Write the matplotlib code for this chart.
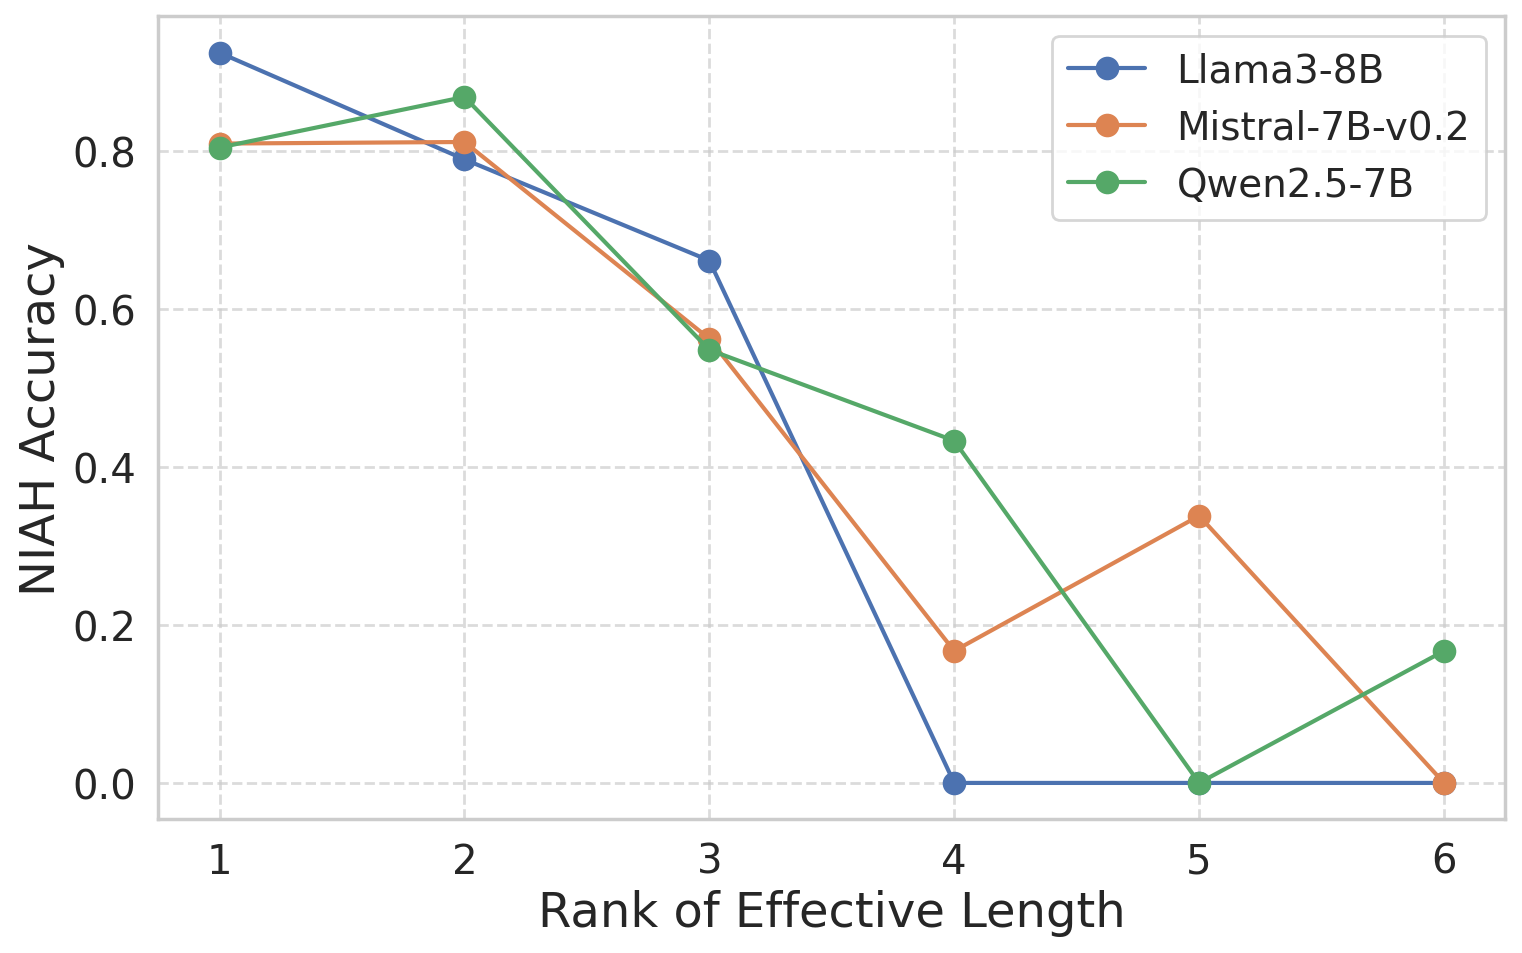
import matplotlib
matplotlib.use('Agg')
import matplotlib.pyplot as plt
import seaborn as sns

# DATA
ranks = [1, 2, 3, 4, 5, 6]
llama = [0.924, 0.789, 0.661, 0.0, 0.0, 0.0]
mistral = [0.809, 0.811, 0.562, 0.167, 0.338, 0.0]
qwen = [0.804, 0.868, 0.548, 0.433, 0.0, 0.167]
model_names = ['Llama3-8B', 'Mistral-7B-v0.2', 'Qwen2.5-7B']

sns.set_theme(style='whitegrid')
plt.rcParams['font.family'] = ['DejaVu Sans']

fig, ax = plt.subplots(figsize=(7.61, 4.77), dpi=200)
colors = sns.color_palette('deep')

for vals, name, c in zip([llama, mistral, qwen], model_names, colors):
    ax.plot(ranks, vals, marker='o', markersize=7.5, linewidth=1.5, color=c, label=name)

ax.grid(True, linestyle='--', alpha=0.7)
ax.set_xlabel('Rank of Effective Length', fontsize=17.3, labelpad=2.5)
ax.set_ylabel('NIAH Accuracy', fontsize=17.3, labelpad=2.5)
ax.tick_params(labelsize=14.5, pad=2)
ax.set_yticks([0.0, 0.2, 0.4, 0.6, 0.8])
ax.legend(fontsize=14, loc='upper right')

fig.subplots_adjust(left=0.104, right=0.989, top=0.982, bottom=0.14)
plt.savefig('out.png', dpi=200)
